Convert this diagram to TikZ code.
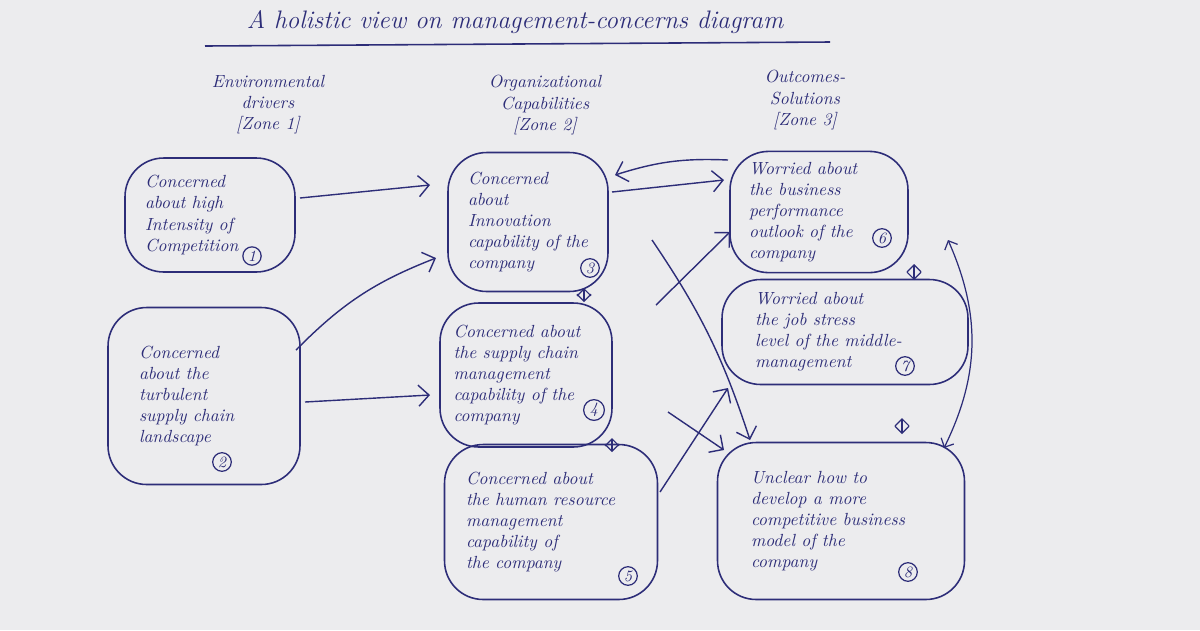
\documentclass[tikz,border=0pt]{standalone}
\usetikzlibrary{arrows.meta}
\definecolor{paper}{RGB}{236,236,238}
\definecolor{pen}{RGB}{45,45,120}
\begin{document}
\begin{tikzpicture}[x=0.02cm,y=-0.02cm,
  concern/.style={draw=pen,line width=0.9pt,rounded corners=22pt,text=pen,font=\itshape\normalsize,align=flush left,inner sep=6pt},
  num/.style={draw=pen,circle,inner sep=1pt,text=pen,font=\itshape\small,line width=0.7pt},
  head/.style={text=pen,font=\itshape\normalsize,align=center},
  link/.style={draw=pen,line width=0.8pt,-{Straight Barb[length=6pt]}},
  dlink/.style={draw=pen,line width=0.7pt,{Straight Barb[length=4pt]}-{Straight Barb[length=4pt]}}]
\fill[paper] (0,0) rectangle (1200,630);
\useasboundingbox (0,0) rectangle (1200,630);
\node[head,font=\itshape\Large] (title) at (515,22) {A holistic view on management-concerns diagram};
\coordinate (ulA) at (205,46); \coordinate (ulB) at (830,42);
\draw[pen,line width=0.9pt] (ulA) -- (ulB);
\node[head] (z1) at (268,105) {Environmental\\drivers\\{[Zone 1]}};
\node[head] (z2) at (545,105) {Organizational\\Capabilities\\{[Zone 2]}};
\node[head] (z3) at (805,100) {Outcomes-\\Solutions\\{[Zone 3]}};
\node[concern,minimum width=3.4cm,minimum height=2.28cm,text width=2.6cm] (b1) at (210,215) {Concerned\\about high\\Intensity of\\Competition};
\node[concern,minimum width=3.84cm,minimum height=3.54cm,text width=2.6cm] (b2) at (204,396) {Concerned\\about the\\turbulent\\supply chain\\landscape};
\node[concern,minimum width=3.2cm,minimum height=2.78cm,text width=2.4cm] (b3) at (528,222) {Concerned\\about\\Innovation\\capability of the\\company};
\node[concern,minimum width=3.44cm,minimum height=2.88cm,text width=2.9cm] (b4) at (526,375) {Concerned about\\the supply chain\\management\\capability of the\\company};
\node[concern,minimum width=4.26cm,minimum height=3.1cm,text width=3.4cm] (b5) at (551,522) {Concerned about\\the human resource\\management\\capability of\\the company};
\node[concern,minimum width=3.56cm,minimum height=2.4cm,text width=2.8cm] (b6) at (819,212) {Worried about\\the business\\performance\\outlook of the\\company};
\node[concern,minimum width=4.92cm,minimum height=2.1cm,text width=3.6cm] (b7) at (845,332) {Worried about\\the job stress\\level of the middle-\\management};
\node[concern,minimum width=4.94cm,minimum height=3.14cm,text width=3.6cm] (b8) at (841,521) {Unclear how to\\develop a more\\competitive business\\model of the\\company};
\node[num] (n1) at (252,256) {1};
\node[num] (n2) at (222,462) {2};
\node[num] (n3) at (590,268) {3};
\node[num] (n4) at (594,410) {4};
\node[num] (n5) at (628,576) {5};
\node[num] (n6) at (882,238) {6};
\node[num] (n7) at (905,366) {7};
\node[num] (n8) at (908,572) {8};
\coordinate (a1s) at (300,198); \coordinate (a1e) at (430,185);
\coordinate (a2s) at (296,350); \coordinate (a2e) at (436,258);
\coordinate (a3s) at (305,402); \coordinate (a3e) at (430,395);
\coordinate (a4s) at (612,192); \coordinate (a4e) at (724,180);
\coordinate (a5s) at (728,160); \coordinate (a5e) at (615,175);
\coordinate (a6s) at (656,305); \coordinate (a6e) at (730,232);
\coordinate (a7s) at (652,240); \coordinate (a7e) at (750,440);
\coordinate (a8s) at (668,412); \coordinate (a8e) at (724,450);
\coordinate (a9s) at (660,492); \coordinate (a9e) at (728,388);
\draw[link] (a1s) -- (a1e);
\draw[link] (a2s) to[bend left=12] (a2e);
\draw[link] (a3s) -- (a3e);
\draw[link] (a4s) -- (a4e);
\draw[link] (a5s) to[bend right=10] (a5e);
\draw[link] (a6s) -- (a6e);
\draw[link] (a7s) to[bend left=8] (a7e);
\draw[link] (a8s) -- (a8e);
\draw[link] (a9s) -- (a9e);
\coordinate (d1s) at (584,288); \coordinate (d1e) at (584,302);
\coordinate (d2s) at (612,438); \coordinate (d2e) at (612,452);
\coordinate (d3s) at (914,264); \coordinate (d3e) at (914,280);
\coordinate (d4s) at (902,418); \coordinate (d4e) at (902,434);
\coordinate (d5s) at (948,240); \coordinate (d5e) at (944,448);
\draw[dlink] (d1s) -- (d1e);
\draw[dlink] (d2s) -- (d2e);
\draw[dlink] (d3s) -- (d3e);
\draw[dlink] (d4s) -- (d4e);
\draw[dlink] (d5s) to[bend left=25] (d5e);
\end{tikzpicture}
\end{document}
